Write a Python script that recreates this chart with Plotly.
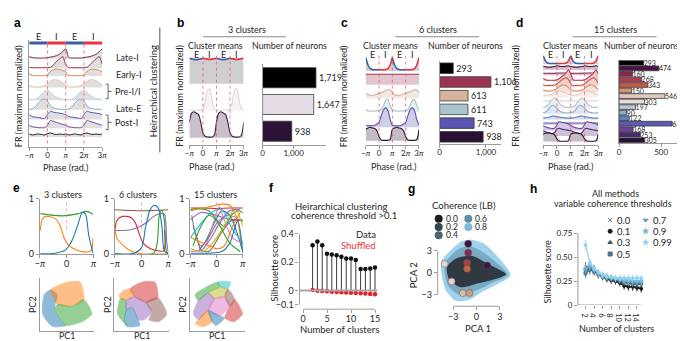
import math
import plotly.graph_objects as go

W, H = 685, 341
PI = math.pi
FONT = "Lato, 'Liberation Sans', Arial, sans-serif"
INK = "#262626"
SPINE = "#9b9b9b"
E_BLUE = "#3d5ca8"
I_RED = "#e8343f"
DOT_RED = "#ee5a66"

# ======================= DATA =======================
# one respiratory cycle sampled in units of pi (plotted twice: -pi..3pi)
CYCLE_PHASE = [-1.0, -5/6, -2/3, -1/2, -1/3, -1/6, 0.0, 1/6, 1/3, 1/2, 2/3, 5/6, 1.0]
PHASE_TICKS = [-1, 0, 1, 2, 3]
PHASE_TICKTEXT = ["−<i>π</i>", "0", "<i>π</i>", "2<i>π</i>", "3<i>π</i>"]

# panel a: example neurons (height in px above row baseline)
A_LATE_I = [2, 1, 0.5, 0.5, 0.5, 0.5, 1, 1.5, 2, 3, 4.5, 7, 10]
A_LATE_I2 = [1, 0.5, 0.5, 0.5, 0.5, 0.5, 0.5, 1, 3.5, 7, 9.5, 12, 4]
A_EARLY_I = [3, 0.5, 0.3, 0.3, 0.3, 0.3, 1, 5, 6.5, 7, 6.5, 6, 4]
A_PRE_I1 = [2, 1, 0.5, 0.5, 1, 2, 4, 6.5, 8, 8, 7, 5, 3]
A_PRE_I2 = [0.5, 0.5, 1, 3, 6, 9, 10, 8, 5, 3, 1.5, 1, 0.5]
A_LATE_E = [0.5, 1, 3, 7, 10, 11, 9, 4, 2, 1, 0.5, 0.5, 0.5]
A_POST_I1 = [5, 3, 2.5, 2, 1.5, 1, 5, 8.5, 7.5, 7, 6.5, 6, 5]
A_POST_I2 = [3, 1.5, 1, 0.5, 0.5, 0.5, 3, 8, 7, 6, 5, 4, 3]
A_TONIC = [3, 2, 2.5, 3, 2.5, 2, 3.5, 4, 3, 2.5, 3, 2.5, 3]
A_ROWS = [A_LATE_I, A_LATE_I2, A_EARLY_I, A_PRE_I1, A_PRE_I2, A_LATE_E, A_POST_I1, A_POST_I2, A_TONIC]
A_COLORS = ["#7e2a55", "#a0304f", "#d4875f", "#e6c3ad", "#c2d0db", "#86aed6", "#5553b5", "#7b4ba3", "#2b1533"]
A_LABELS = ["Late-I", "Early-I", "Pre-I/I", "Late-E", "Post-I"]

# panel b: 3 clusters (normalised means)
B_MEANS = [
    [0.97, 0.95, 0.93, 0.92, 0.93, 0.95, 0.97, 0.96, 0.94, 0.93, 0.94, 0.96, 0.97],
    [0.02, 0.02, 0.02, 0.02, 0.02, 0.03, 0.08, 0.35, 0.85, 0.9, 0.45, 0.1, 0.03],
    [0.6, 0.95, 1.0, 0.95, 0.9, 0.6, 0.2, 0.06, 0.03, 0.03, 0.03, 0.1, 0.6],
]
B_COUNTS = [1719, 1647, 938]
B_COLORS = ["#000000", "#e6dce6", "#2d1238"]
B_LINE = ["#000000", "#e2d4e2", "#3b1e45"]

# panel c: 6 clusters
C_MEANS = [
    [1.0, 0.45, 0.2, 0.12, 0.1, 0.1, 0.1, 0.1, 0.1, 0.12, 0.18, 0.45, 1.0],
    [0.9, 0.9, 0.9, 0.9, 0.9, 0.9, 0.9, 0.9, 0.9, 0.9, 0.9, 0.9, 0.9],
    [0.4, 0.3, 0.25, 0.25, 0.3, 0.35, 0.4, 0.5, 0.55, 0.65, 0.75, 0.7, 0.5],
    [0.15, 0.08, 0.06, 0.06, 0.06, 0.08, 0.1, 0.18, 0.45, 0.85, 0.9, 0.45, 0.15],
    [0.1, 0.08, 0.08, 0.08, 0.1, 0.15, 0.25, 0.6, 0.9, 1.0, 0.85, 0.4, 0.1],
    [0.85, 0.95, 1.0, 0.95, 0.9, 0.75, 0.3, 0.06, 0.03, 0.03, 0.03, 0.1, 0.85],
]
C_COUNTS = [293, 1106, 613, 611, 743, 938]
C_COLORS = ["#000000", "#9c3352", "#d6b39c", "#a9c4cd", "#5a55b2", "#2a1133"]

# panel d: 15 clusters
D_MEANS = [
    [1.0, 0.4, 0.15, 0.1, 0.1, 0.1, 0.1, 0.1, 0.1, 0.1, 0.15, 0.4, 1.0],
    [0.5, 0.45, 0.4, 0.4, 0.45, 0.5, 0.6, 0.55, 0.5, 0.5, 0.55, 0.6, 0.5],
    [0.3, 0.3, 0.3, 0.3, 0.3, 0.3, 0.35, 0.35, 0.35, 0.35, 0.35, 0.35, 0.3],
    [0.2, 0.1, 0.05, 0.05, 0.05, 0.05, 0.1, 0.2, 0.35, 0.5, 0.7, 0.95, 0.6],
    [0.2, 0.1, 0.1, 0.1, 0.1, 0.15, 0.25, 0.45, 0.65, 0.8, 0.9, 0.7, 0.3],
    [0.2, 0.15, 0.1, 0.1, 0.15, 0.25, 0.4, 0.6, 0.75, 0.8, 0.7, 0.5, 0.3],
    [0.3, 0.25, 0.25, 0.3, 0.4, 0.55, 0.7, 0.75, 0.7, 0.6, 0.5, 0.4, 0.3],
    [0.4, 0.4, 0.4, 0.4, 0.4, 0.4, 0.4, 0.4, 0.4, 0.4, 0.4, 0.4, 0.4],
    [0.1, 0.15, 0.3, 0.6, 0.85, 0.95, 0.8, 0.5, 0.3, 0.2, 0.1, 0.1, 0.1],
    [0.15, 0.2, 0.4, 0.7, 0.9, 0.8, 0.6, 0.35, 0.2, 0.15, 0.1, 0.1, 0.15],
    [0.2, 0.25, 0.3, 0.4, 0.5, 0.5, 0.45, 0.35, 0.3, 0.25, 0.2, 0.2, 0.2],
    [0.35, 0.35, 0.35, 0.35, 0.35, 0.35, 0.35, 0.35, 0.35, 0.35, 0.35, 0.35, 0.35],
    [0.5, 0.4, 0.3, 0.25, 0.2, 0.25, 0.6, 0.9, 0.85, 0.8, 0.75, 0.7, 0.5],
    [0.6, 0.5, 0.4, 0.35, 0.3, 0.4, 0.8, 0.9, 0.8, 0.75, 0.7, 0.65, 0.6],
    [0.85, 0.95, 1.0, 0.95, 0.9, 0.75, 0.3, 0.06, 0.03, 0.03, 0.03, 0.1, 0.85],
]
D_COUNTS = [293, 474, 160, 268, 343, 150, 546, 303, 197, 90, 122, 632, 168, 253, 305]
D_COLORS = ["#000000", "#4b1245", "#8a2552", "#b03a52", "#c65a45", "#d39572", "#e3cbbb", "#e8dce2",
            "#b3cad2", "#8baad0", "#5a84c2", "#5b5bb3", "#6d3fa5", "#4b2a74", "#2a1133"]

# panel e: phase-tuning curves (x in units of pi)
TAB = {"blue": "#1f77b4", "orange": "#ff7f0e", "green": "#2ca02c", "red": "#d62728", "purple": "#9467bd",
       "brown": "#8c564b", "pink": "#e377c2", "gray": "#7f7f7f", "olive": "#bcbd22", "cyan": "#17becf"}
E1_COLORS = ["green", "orange", "blue"]
E1_X = [[-0.98, -0.18, 0.43, 0.74, 0.98],
        [-0.98, -0.92, -0.8, -0.43, -0.25, -0.12, 0.06, 0.37, 0.74, 0.92, 0.98],
        [-0.98, -0.43, -0.06, 0.18, 0.43, 0.58, 0.7, 0.82, 0.98]]
E1_Y = [[0.73, 0.69, 0.73, 0.77, 0.72],
        [0.43, 0.62, 0.68, 0.64, 0.52, 0.32, 0.17, 0.075, 0.04, 0.075, 0.29],
        [0.01, 0.02, 0.075, 0.23, 0.55, 0.75, 0.72, 0.35, 0.02]]
E2_COLORS = ["brown", "red", "orange", "purple", "blue", "green"]
E2_X = [[-1, 0, 1],
        [-0.98, -0.92, -0.71, -0.4, -0.22, -0.1, 0.06, 0.33, 0.64, 0.82, 0.88, 0.85],
        [-1, -0.92, -0.71, -0.4, 0, 1],
        [-1, -0.53, -0.1, 0.21, 0.45, 0.7, 0.85, 0.94, 1],
        [-1, -0.28, 0, 0.15, 0.33, 0.49, 0.64, 0.76, 0.85, 1],
        [-1, 0.45, 0.58, 0.67, 0.76, 0.85, 0.92, 1]]
E2_Y = [[0.8, 0.78, 0.8],
        [0.46, 0.61, 0.68, 0.66, 0.55, 0.38, 0.2, 0.1, 0.06, 0.06, 0.2, 0.43],
        [0.49, 0.29, 0.17, 0.06, 0.01, 0.01],
        [0.43, 0.43, 0.49, 0.58, 0.68, 0.73, 0.72, 0.2, 0.03],
        [0.01, 0.02, 0.12, 0.49, 0.81, 0.88, 0.81, 0.49, 0.06, 0.01],
        [0.01, 0.02, 0.2, 0.72, 0.79, 0.6, 0.06, 0.01]]
E3_COLORS = ["red", "purple", "green", "orange", "blue", "brown", "pink", "gray", "olive", "cyan",
             "blue", "orange", "green", "purple"]
E3_X = [[-1, -0.5, 0, 0.5, 1], [-1, -0.6, -0.2, 0.3, 0.7, 1], [-1, -0.7, -0.3, 0, 0.3, 0.6, 0.85, 1],
        [-1, -0.6, -0.2, 0.2, 0.5, 0.8, 0.95], [-0.7, -0.4, -0.1, 0.2, 0.5, 0.8, 1],
        [-0.9, -0.75, -0.6, -0.3, 0.2, 0.6, 1], [-1, -0.5, -0.2, 0.1, 0.3, 0.6, 1],
        [-0.95, -0.8, -0.6, -0.3, 0, 0.4, 0.8], [-1, -0.5, 0, 0.4, 0.7, 1], [-1, -0.6, -0.2, 0.2, 0.6, 1],
        [-1, -0.3, 0.2, 0.5, 0.8, 1], [-1, -0.5, 0, 0.3, 0.6, 0.9], [-0.9, -0.6, -0.3, 0, 0.5, 0.9],
        [-0.5, -0.2, 0.1, 0.5, 0.9]]
E3_Y = [[0.83, 0.83, 0.82, 0.83, 0.83], [0.62, 0.75, 0.72, 0.65, 0.6, 0.62],
        [0.8, 0.82, 0.78, 0.62, 0.5, 0.72, 0.78, 0.75], [0.78, 0.82, 0.86, 0.9, 0.88, 0.6, 0.1],
        [0.05, 0.25, 0.55, 0.78, 0.7, 0.35, 0.05], [0.5, 0.3, 0.08, 0.05, 0.4, 0.62, 0.6],
        [0.05, 0.1, 0.45, 0.85, 0.6, 0.3, 0.2], [0.7, 0.35, 0.15, 0.3, 0.55, 0.7, 0.65],
        [0.1, 0.05, 0.3, 0.6, 0.82, 0.5], [0.3, 0.55, 0.75, 0.8, 0.45, 0.2],
        [0.02, 0.02, 0.05, 0.2, 0.6, 0.02], [0.3, 0.2, 0.1, 0.15, 0.5, 0.75],
        [0.15, 0.5, 0.7, 0.6, 0.2, 0.05], [0.1, 0.3, 0.55, 0.78, 0.8]]

# panel e: PC-space cluster regions (PC1, PC2 in arbitrary units)
E1S_COLORS = ["blue", "orange", "green"]
E1S_X = [[4.7, 11, 18, 15, 23, 26, 13, 3], [11, 28, 41, 45, 33, 18, 13], [18, 33, 45, 53, 43, 26, 23, 15]]
E1S_Y = [[38, 43, 38, 23, 10, 6, 5, 18], [43, 51, 51, 33, 26, 28, 36], [28, 26, 33, 18, 10, 6, 10, 23]]
E2S_COLORS = ["red", "orange", "green", "blue", "purple", "brown"]
E2S_X = [[16, 28, 41, 44, 32, 20], [4.7, 11, 16, 20, 12, 6], [3, 6, 12, 12, 10, 13], [10, 12, 18, 24, 26, 13],
         [12, 20, 32, 38, 30, 24, 18, 12], [32, 44, 53, 45, 35, 38]]
E2S_Y = [[44, 51, 51, 35, 30, 36], [38, 43, 44, 36, 32, 34], [18, 34, 32, 22, 12, 5], [12, 22, 25, 12, 6, 5],
         [32, 36, 30, 20, 12, 12, 25, 22], [30, 35, 18, 10, 12, 20]]
E3S_COLORS = ["green", "cyan", "olive", "purple", "pink", "red", "orange", "blue", "brown"]
E3S_X = [[4.7, 16, 28, 30, 18, 8], [28, 41, 38, 30], [18, 30, 38, 35, 24], [3, 8, 18, 24, 18, 8],
         [18, 24, 35, 40, 30], [40, 45, 53, 44, 35], [8, 18, 22, 13, 5], [22, 18, 30, 35, 26], [35, 38, 45, 40]]
E3S_Y = [[38, 46, 51, 46, 40, 32], [51, 51, 44, 46], [40, 46, 44, 36, 34], [18, 32, 40, 34, 22, 12],
         [22, 34, 36, 26, 16], [26, 33, 18, 10, 14], [12, 22, 10, 5, 8], [10, 22, 16, 14, 6], [36, 44, 33, 26]]

# panel f
F_K = [2, 3, 4, 5, 6, 7, 8, 9, 10, 11, 12, 13, 14, 15]
F_DATA = [0.32, 0.347, 0.32, 0.26, 0.254, 0.249, 0.238, 0.226, 0.226, 0.215, 0.153, 0.153, 0.155, 0.162]
F_SHUF = [0.003, -0.002, -0.004, -0.006, -0.008, -0.010, -0.012, -0.014, -0.016, -0.018, -0.020, -0.022, -0.025, -0.027]

# panel g
G_LEVELS = ["0.0", "0.2", "0.4", "0.6", "0.8"]
G_LEVEL_COLORS = ["#1c1c1c", "#33444c", "#4b6673", "#5f8fa5", "#7dbbd8"]
G_OUT_X = [-4.48, -1.94, -0.67, 0.81, 2.08, 4.40, 2.5, 0.81, -0.89, -2.58, -3.85, -4.48]
G_OUT_Y = [1.63, 4.28, 4.5, 4.05, 2.95, -0.36, -1.68, -2.57, -3.67, -3.89, -2.57, -0.36]
G_MID_X = [-4.1, -2.2, -0.7, 1.0, 4.0, 1.8, 0.0, -2.3, -3.7]
G_MID_Y = [1.2, 3.3, 3.6, 2.7, -0.3, -1.5, -2.4, -3.0, -1.7]
G_IN_X = [-3.8, -2.5, -0.5, 1.5, 3.8, 2.0, 0.0, -2.0, -3.5]
G_IN_Y = [0.8, 2.0, 2.3, 1.2, -0.2, -1.0, -1.5, -2.0, -1.0]
G_CX = [-1.07, -1.07, -1.2, -1.2, 1.38, -4.1, -3.2, -1.76, -0.9]
G_CY = [3.95, 2.73, 1.36, 0.55, 1.0, 1.2, -1.2, -2.8, -2.8]
G_CC = ["#3d1240", "#8b2552", "#b03a50", "#c8653f", "#44123f", "#e2d6d6", "#ecd0cc", "#d9bcaa", "#cf9d7c"]

# panel h
H_K = [2, 3, 4, 5, 6, 7, 8, 9, 10, 11, 12, 13, 14, 15]
H_NAMES = ["0.0", "0.1", "0.3", "0.5", "0.7", "0.9", "0.99"]
H_VALUES = [
    [0.40, 0.40, 0.36, 0.32, 0.29, 0.27, 0.26, 0.25, 0.24, 0.21, 0.20, 0.19, 0.19, 0.18],
    [0.37, 0.42, 0.38, 0.33, 0.30, 0.28, 0.26, 0.25, 0.23, 0.20, 0.19, 0.19, 0.18, 0.17],
    [0.35, 0.38, 0.35, 0.32, 0.30, 0.28, 0.27, 0.26, 0.25, 0.24, 0.23, 0.22, 0.22, 0.22],
    [0.33, 0.37, 0.35, 0.32, 0.30, 0.29, 0.28, 0.27, 0.26, 0.25, 0.24, 0.23, 0.23, 0.23],
    [0.36, 0.40, 0.37, 0.33, 0.31, 0.29, 0.28, 0.27, 0.26, 0.25, 0.24, 0.24, 0.24, 0.24],
    [0.38, 0.42, 0.38, 0.34, 0.31, 0.30, 0.29, 0.28, 0.27, 0.26, 0.26, 0.25, 0.25, 0.25],
    [0.63, 0.44, 0.38, 0.34, 0.31, 0.30, 0.29, 0.28, 0.28, 0.28, 0.28, 0.28, 0.28, 0.28],
]
H_ERR = [0.05, 0.05, 0.04, 0.04, 0.035, 0.035, 0.035, 0.035, 0.035, 0.04, 0.04, 0.04, 0.04, 0.04]
H_COLORS = ["#6a6a6a", "#1a1a1a", "#3f5560", "#4f7385", "#5d97b8", "#6fb3d8", "#8fd3f2"]
H_SYMBOLS = ["x-thin-open", "circle", "triangle-up", "square", "triangle-down", "star", "star"]

# ======================= HELPERS =======================
fig = go.Figure()
AX, SH, AN = {}, [], []


def ids(n):
    return ("x" if n == 1 else f"x{n}"), ("y" if n == 1 else f"y{n}")


def axes(n, xpx, ypx, xr, yr, xkw=None, ykw=None):
    base = dict(showgrid=False, zeroline=False, showticklabels=False, ticks="", showline=False,
                fixedrange=True, linecolor=SPINE, linewidth=1, tickcolor=SPINE, ticklen=3, tickwidth=1,
                tickfont=dict(family=FONT, size=8, color=INK))
    xa = dict(base, domain=[xpx[0] / W, xpx[1] / W], range=xr, anchor=ids(n)[1])
    ya = dict(base, domain=[1 - ypx[1] / H, 1 - ypx[0] / H], range=yr, anchor=ids(n)[0])
    if xkw:
        xa.update(xkw)
    if ykw:
        ya.update(ykw)
    k = "" if n == 1 else str(n)
    AX["xaxis" + k] = xa
    AX["yaxis" + k] = ya


def tr(n, **kw):
    xa, ya = ids(n)
    kw.setdefault("showlegend", False)
    kw.setdefault("hoverinfo", "skip")
    fig.add_trace(go.Scatter(xaxis=xa, yaxis=ya, **kw))


def text(x, y, s, size=9, color=INK, xanchor="center", angle=0, family=FONT):
    AN.append(dict(xref="paper", yref="paper", x=x / W, y=1 - y / H, text=s, showarrow=False,
                   xanchor=xanchor, yanchor="middle", textangle=angle,
                   font=dict(family=family, size=size, color=color)))


def pline(x0, y0, x1, y1, color=SPINE, width=1):
    SH.append(dict(type="line", xref="paper", yref="paper", x0=x0 / W, y0=1 - y0 / H, x1=x1 / W,
                   y1=1 - y1 / H, line=dict(color=color, width=width)))


def tint(hexc, f):
    r, g, b = int(hexc[1:3], 16), int(hexc[3:5], 16), int(hexc[5:7], 16)
    r, g, b = [int(c + (255 - c) * f) for c in (r, g, b)]
    return f"rgb({r},{g},{b})"


def two_cycles(vals):
    xs = [p * PI for p in CYCLE_PHASE] + [(p + 2) * PI for p in CYCLE_PHASE[1:]]
    return xs, list(vals) + list(vals[1:])


def ridge(n, vals, base, h, line_color, fill_color, width=1.1, split=False):
    xs, vs = two_cycles(vals)
    ys = [base - h * v for v in vs]
    tr(n, x=xs, y=[base] * len(xs), mode="lines", line=dict(width=0, color="rgba(0,0,0,0)"))
    tr(n, x=xs, y=ys, mode="lines", fill="tonexty", fillcolor=fill_color,
       line=dict(width=0 if split else width, color=line_color, shape="spline", smoothing=0.9))
    if split:
        for i0, col in [(0, E_BLUE), (6, I_RED), (12, E_BLUE), (18, I_RED)]:
            tr(n, x=xs[i0:i0 + 7], y=ys[i0:i0 + 7], mode="lines",
               line=dict(width=width + 0.5, color=col, shape="spline", smoothing=0.9))


PHX = dict(showline=True, ticks="outside", showticklabels=True, ticklabelstandoff=-2,
           tickvals=[t * PI for t in PHASE_TICKS], ticktext=PHASE_TICKTEXT)


def red_dots(n, ytop, ybot):
    xa, ya = ids(n)
    for t in (0, 1, 2):
        SH.append(dict(type="line", xref=xa, yref=ya, x0=t * PI, x1=t * PI, y0=ytop, y1=ybot,
                       line=dict(color=DOT_RED, width=0.8, dash="dot")))


def ei_labels(x_left, x_right, y):
    span = x_right - x_left
    for frac, s in [(0.125, "E"), (0.375, "I"), (0.625, "E"), (0.875, "I")]:
        text(x_left + span * frac, y, s, size=9)


# ======================= PANEL a =======================
A_BASES = [46, 56, 64, 76, 89, 99, 109, 118, 127]
axes(1, (16.5, 90.5), (27, 137), [-PI, 3 * PI], [137, 27], xkw=PHX, ykw=dict(showline=True))
for t0, col in [(-1, E_BLUE), (0, I_RED), (1, E_BLUE), (2, I_RED)]:
    SH.append(dict(type="rect", xref="x", yref="y", x0=t0 * PI, x1=(t0 + 1) * PI, y0=28.5, y1=31.5,
                   line=dict(width=0), fillcolor=col))
red_dots(1, 31.5, 137)
for vals, base, col in zip(A_ROWS, A_BASES, A_COLORS):
    ridge(1, vals, base, 1.0, col, "rgba(185,185,185,0.45)", width=1.0)
ei_labels(16.5, 90.5, 23)
text(102.5, 45, A_LABELS[0], xanchor="left")
text(102.5, 62, A_LABELS[1], xanchor="left")
text(101.5, 80, A_LABELS[2], xanchor="left")
text(102.5, 98, A_LABELS[3], xanchor="left")
text(101.5, 112, A_LABELS[4], xanchor="left")
for y0, y1 in [(72.5, 87.5), (104.5, 119.5)]:
    pline(94, y0, 96.5, y0, "#555", 0.9)
    pline(94, y1, 96.5, y1, "#555", 0.9)
    pline(96.5, y0, 96.5, y1, "#555", 0.9)
    pline(96.5, (y0 + y1) / 2, 100, (y0 + y1) / 2, "#555", 0.9)
text(5, 85, "FR (maximum normalized)", angle=-90)
text(53, 158.5, "Phase (rad.)")

# hierarchical clustering divider
text(142, 80, "Heirarchical clustering", size=9.5, angle=-90)
pline(149, 14, 149, 143, "#555", 1)


# ======================= PANELS b, c, d =======================
def cluster_panel(n_mean, n_bar, xm, xb, ymean, ybar, bar_max, means, counts, colors, line_colors,
                  bases, heights, tickv, tickt, width_bar, label_size):
    axes(n_mean, xm, ymean, [-PI, 3 * PI], [ymean[1], ymean[0]], xkw=PHX)
    red_dots(n_mean, ymean[0], ymean[1])
    for i, (vals, base, h) in enumerate(zip(means, bases, heights)):
        lc = line_colors[i]
        fill = "#cfcfcf" if i == 0 else tint(lc, 0.72)
        ridge(n_mean, vals, base, h, lc, fill, width=1.1, split=(i == 0))
    ncat = len(counts)
    axes(n_bar, xb, ybar, [0, bar_max], [ncat - 0.5, -0.5],
         xkw=dict(showline=True, ticks="outside", showticklabels=True, ticklabelstandoff=-2,
                  tickvals=tickv, ticktext=tickt),
         ykw=dict(showline=True))
    xa, ya = ids(n_bar)
    fig.add_trace(go.Bar(x=counts, y=list(range(ncat)), orientation="h", width=width_bar,
                         marker=dict(color=colors, line=dict(color="#3a3a3a", width=0.8)),
                         text=[f"{v:,}" for v in counts], textposition="outside", cliponaxis=False,
                         constraintext="none", textangle=0,
                         textfont=dict(family=FONT, size=label_size, color=INK),
                         xaxis=xa, yaxis=ya, showlegend=False, hoverinfo="skip"))


# b
cluster_panel(2, 3, (179, 234), (253.3, 318), (43, 135), (52, 135), 2054, B_MEANS, B_COUNTS, B_COLORS,
              B_LINE, [72, 100, 128], [27, 25, 27], [0, 1000], ["0", "1,000"], 0.75, 9)
# c
cluster_panel(4, 5, (358, 412), (433, 495), (43, 135), (49, 134), 1319, C_MEANS, C_COUNTS, C_COLORS,
              C_COLORS, [59, 73, 87, 101, 117, 131], [14, 12, 12, 14, 20, 14], [0, 1000], ["0", "1,000"],
              0.77, 9)
# d
D_BASES = [52 + 5.7 * i for i in range(15)]
D_HEIGHTS = [9, 7, 7, 12, 10, 9, 9, 6, 11, 10, 7, 6, 10, 9, 9]
cluster_panel(6, 7, (538, 594), (615, 680), (43, 135), (47.7, 133.3), 761, D_MEANS, D_COUNTS, D_COLORS,
              D_COLORS, D_BASES, D_HEIGHTS, [0, 500], ["0", "500"], 0.85, 7)

for (xl, xr_, title, cm, nn, fx) in [((193, 277), 237, "3 clusters", 205, 281, 169),
                                      ((388, 473), 431.5, "6 clusters", 383, 459, 335),
                                      ((568, 653), 611.5, "15 clusters", 566, 638, 510)]:
    text(xr_, 16, title, size=9)
    pline(xl[0], 23.5, xl[1], 23.5, "#8a8a8a", 1.2)
    text(cm, 32.5, "Cluster means", size=8.8)
    text(nn, 32.5, "Number of neurons", size=8.8)
    text(fx, 85, "FR (maximum normalized)", angle=-90)
ei_labels(179, 234, 41.5)
ei_labels(358, 412, 41.5)
ei_labels(538, 594, 41.5)
text(201, 157.5, "Phase (rad.)")
text(386, 157.5, "Phase (rad.)")
text(566, 157.5, "Phase (rad.)")

# ======================= PANEL e =======================
EX = dict(showline=True, ticks="outside", showticklabels=True, tickvals=[-PI, 0, PI], ticklabelstandoff=-2,
          ticktext=["−<i>π</i>", "0", "<i>π</i>"], tickfont=dict(family=FONT, size=9, color=INK))
EY = dict(showline=True, ticks="outside", showticklabels=True, tickvals=[0, 1], ticktext=["0", "1"],
          tickfont=dict(family=FONT, size=9, color=INK))
e_line_specs = [(8, (27.3, 81.7), E1_COLORS, E1_X, E1_Y, "3 clusters", 51),
                (9, (103.3, 157.7), E2_COLORS, E2_X, E2_Y, "6 clusters", 127),
                (10, (180, 233.3), E3_COLORS, E3_X, E3_Y, "15 clusters", 205)]
for n, xd, cols, xs_, ys_, title, tx in e_line_specs:
    axes(n, xd, (190.7, 248.3), [-PI, PI], [0, 1], xkw=EX, ykw=EY)
    xa, ya = ids(n)
    SH.append(dict(type="line", xref=xa, yref=ya, x0=0, x1=0, y0=0.45, y1=1.0,
                   line=dict(color="#f08a8a", width=0.8, dash="dot")))
    for c, xx, yy in zip(cols, xs_, ys_):
        tr(n, x=[v * PI for v in xx], y=yy, mode="lines",
           line=dict(color=TAB[c], width=1.1, shape="spline", smoothing=0.8))
    text(tx, 187, title, size=9)

e_sc_specs = [(11, (27, 82), E1S_COLORS, E1S_X, E1S_Y, 20, 55),
              (12, (103, 158), E2S_COLORS, E2S_X, E2S_Y, 96, 131),
              (13, (180, 235), E3S_COLORS, E3S_X, E3S_Y, 172, 207)]
for n, xd, cols, xs_, ys_, pc2x, pc1x in e_sc_specs:
    axes(n, xd, (273, 328), [0, 55], [0, 55], xkw=dict(showline=True), ykw=dict(showline=True))
    for c, xx, yy in zip(cols, xs_, ys_):
        tr(n, x=xx + [xx[0]], y=yy + [yy[0]], mode="lines", fill="toself", fillcolor=TAB[c],
           opacity=0.5, line=dict(width=0.6, color=TAB[c], shape="spline", smoothing=0.6))
    text(pc2x, 300, "PC2", size=9, angle=-90)
    text(pc1x, 332, "PC1", size=8.8)

# ======================= PANEL f =======================
axes(14, (290.7, 370), (227.3, 305), [-0.74, 15.54], [-0.132, 0.4],
     xkw=dict(ticks="outside", showticklabels=True, tickvals=[0, 5, 10, 15], ticklabelstandoff=-2,
              tickfont=dict(family=FONT, size=9, color=INK)),
     ykw=dict(ticks="outside", showticklabels=True, tickvals=[-0.1, 0, 0.2, 0.4],
              tickfont=dict(family=FONT, size=9, color=INK)))
SH.append(dict(type="line", xref="paper", yref="y14", x0=290.7 / W, x1=290.7 / W, y0=-0.1, y1=0.4,
               line=dict(color=SPINE, width=1)))
SH.append(dict(type="line", xref="x14", yref="paper", x0=0, x1=15, y0=1 - 305 / H, y1=1 - 305 / H,
               line=dict(color=SPINE, width=1)))
SH.append(dict(type="line", xref="x14", yref="y14", x0=-0.74, x1=15.54, y0=0, y1=0,
               line=dict(color="#a8a8a8", width=2)))
stem_x, stem_y, sh_x, sh_y = [], [], [], []
for k, v, s in zip(F_K, F_DATA, F_SHUF):
    stem_x += [k, k, None]
    stem_y += [0, v, None]
    sh_x += [k, k, None]
    sh_y += [0, s, None]
tr(14, x=stem_x, y=stem_y, mode="lines", line=dict(color="#3a3a3a", width=1))
tr(14, x=sh_x, y=sh_y, mode="lines", line=dict(color="#e8202a", width=1))
tr(14, x=F_K, y=F_DATA, mode="markers", marker=dict(color="#111111", size=4.5))
tr(14, x=F_K, y=F_SHUF, mode="markers", marker=dict(color="#e8202a", size=4.5))
text(333, 198.5, "Heirarchical clustering", size=9.5)
text(336, 208.5, "coherence threshold >0.1", size=9.5)
text(370, 227.5, "Data", size=9.5, xanchor="right")
text(370, 239, "Shuffled", size=9.5, color="#e8303a", xanchor="right")
text(265, 263, "Silhouette score", size=9.5, angle=-90)
text(331, 326, "Number of clusters", size=9.5)

# ======================= PANEL g =======================
axes(15, (431, 505), (232, 302), [-4.99, 4.40], [-4.6, 4.68],
     xkw=dict(ticks="outside", showticklabels=True, tickvals=[-3, 0, 3], ticklabelstandoff=-1,
              tickfont=dict(family=FONT, size=9, color=INK)),
     ykw=dict(ticks="outside", showticklabels=True, tickvals=[-3, 0, 3],
              tickfont=dict(family=FONT, size=9, color=INK)))
SH.append(dict(type="line", xref="paper", yref="y15", x0=431 / W, x1=431 / W, y0=-3, y1=3,
               line=dict(color=SPINE, width=1)))
SH.append(dict(type="line", xref="x15", yref="paper", x0=-3, x1=3, y0=1 - 302 / H, y1=1 - 302 / H,
               line=dict(color=SPINE, width=1)))
tr(15, x=G_OUT_X + [G_OUT_X[0]], y=G_OUT_Y + [G_OUT_Y[0]], mode="lines", fill="toself",
   fillcolor="#9fd2ec", line=dict(width=0, shape="spline", smoothing=0.7))
tr(15, x=G_MID_X + [G_MID_X[0]], y=G_MID_Y + [G_MID_Y[0]], mode="lines", fill="toself",
   fillcolor="rgba(95,143,165,0.6)", line=dict(width=0, shape="spline", smoothing=0.7))
tr(15, x=G_IN_X + [G_IN_X[0]], y=G_IN_Y + [G_IN_Y[0]], mode="lines", fill="toself",
   fillcolor="rgba(35,38,42,0.85)", line=dict(width=0, shape="spline", smoothing=0.7))
tr(15, x=G_CX, y=G_CY, mode="markers",
   marker=dict(color=G_CC, size=7, line=dict(color="#555", width=0.5)))
text(458, 198, "Coherence (LB)", size=9.5)
text(406, 270, "PCA 2", size=9.5, angle=-90)
text(472, 325, "PCA 1", size=9.5)

# ======================= PANEL h =======================
axes(16, (573.3, 640), (220, 300.7), [0.23, 15.56], [0, 0.818],
     xkw=dict(ticks="outside", showticklabels=True, tickvals=[2, 4, 6, 8, 10, 12, 14], ticklabelstandoff=-1,
              tickfont=dict(family=FONT, size=7.5, color=INK)),
     ykw=dict(ticks="outside", showticklabels=True, tickvals=[0, 0.25, 0.5, 0.75],
              ticktext=["0", "0.25", "0.50", "0.75"], tickfont=dict(family=FONT, size=8, color=INK)))
SH.append(dict(type="line", xref="paper", yref="y16", x0=573.3 / W, x1=573.3 / W, y0=0, y1=0.75,
               line=dict(color=SPINE, width=1)))
SH.append(dict(type="line", xref="paper", yref="y16", x0=573.3 / W, x1=637 / W, y0=0, y1=0,
               line=dict(color=SPINE, width=1)))
for name, vals, col, sym in zip(H_NAMES, H_VALUES, H_COLORS, H_SYMBOLS):
    tr(16, x=H_K, y=vals, mode="lines+markers", line=dict(color=col, width=1.2),
       marker=dict(color=col, size=3, symbol=sym, line=dict(color=col, width=0.8)),
       error_y=dict(type="data", array=H_ERR, color=col, thickness=0.8, width=0))
text(611, 185, "All methods", size=9)
text(609, 195.5, "variable coherence thresholds", size=9)
text(542, 267, "Silhouette score", size=9, angle=-90)
text(612, 325, "Number of clusters", size=9)

# ======================= overlay (legend markers) =======================
axes(17, (0, W), (0, H), [0, W], [H, 0])
g_leg_x = [432, 432, 432, 462, 462]
g_leg_y = [211.5, 220, 228.5, 211.5, 220]
tr(17, x=g_leg_x, y=g_leg_y, mode="markers", marker=dict(color=G_LEVEL_COLORS, size=8))
for lx, ly, s in zip(g_leg_x, g_leg_y, G_LEVELS):
    text(lx + 5, ly, s, size=8.5, xanchor="left")
h_leg_x = [606, 606, 606, 606, 642, 642, 642]
h_leg_y = [213, 224.5, 236, 248, 213, 224.5, 236]
for lx, ly, s, col, sym in zip(h_leg_x, h_leg_y, H_NAMES, H_COLORS, H_SYMBOLS):
    tr(17, x=[lx], y=[ly], mode="markers",
       marker=dict(color=col, size=4, symbol=sym, line=dict(color=col, width=1)))
    text(lx + 5, ly, s, size=9.5, xanchor="left")

# panel letters
for lx, ly, s in [(5, 9, "a"), (170, 9, "b"), (336, 9, "c"), (514, 9, "d"), (4, 180, "e"),
                  (262, 180, "f"), (404, 181, "g"), (528, 181, "h")]:
    text(lx, ly, f"<b>{s}</b>", size=12, color="#000", family="'Liberation Sans', Arial, sans-serif")

fig.update_layout(width=W, height=H, margin=dict(l=0, r=0, t=0, b=0), paper_bgcolor="white",
                  plot_bgcolor="rgba(0,0,0,0)", showlegend=False, shapes=SH, annotations=AN,
                  font=dict(family=FONT, size=9, color=INK), bargap=0.2, **AX)
fig.write_html("out.html")
